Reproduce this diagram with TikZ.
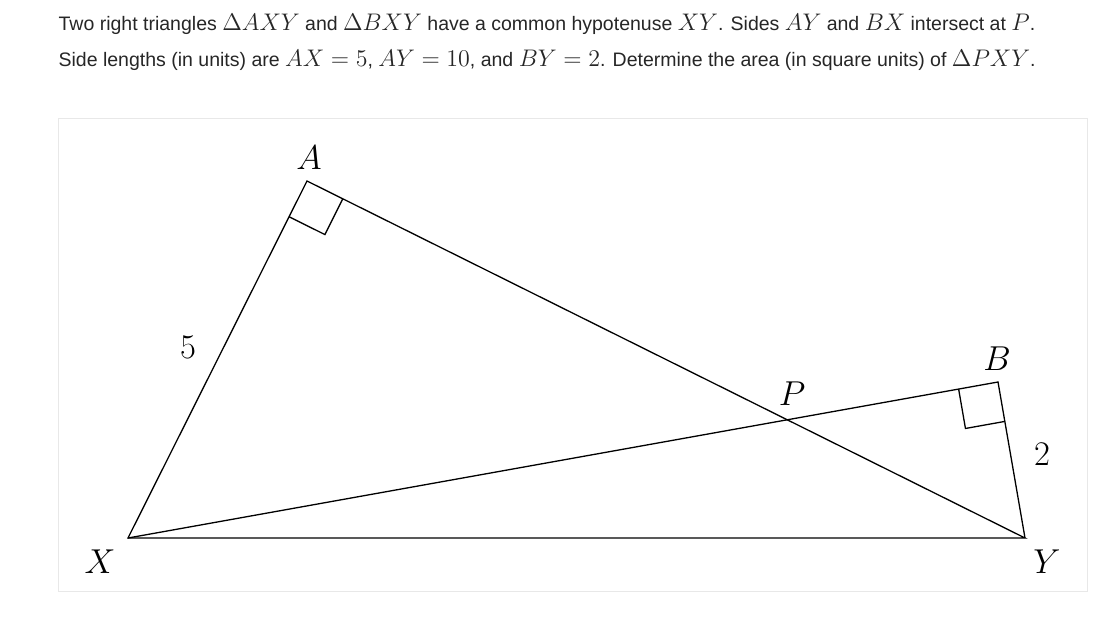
\documentclass[tikz,border=0pt]{standalone}
\usepackage{amsmath}
\usepackage[no-math]{fontspec}
\setmainfont{Liberation Sans}
\usepackage{tikz}
\usetikzlibrary{calc}
\newcommand{\mth}[1]{{\fontsize{11.55}{13}\selectfont$#1$}}
\tikzstyle{txt}=[anchor=base west, inner sep=0pt, text=black!85, font=\fontsize{9.75}{11}\selectfont]
\tikzstyle{lbl}=[inner sep=0pt, font=\fontsize{16}{18}\selectfont]
\tikzstyle{frame}=[draw=black!9, line width=0.5pt]

\begin{document}
\begin{tikzpicture}[x=0.5pt, y=-0.5pt, line width=0.65pt]
                \useasboundingbox (0,0) rectangle (1119,621);
                \node[txt] (t1) at (58,31) {Two right triangles \mth{\Delta AXY} and \mth{\Delta BXY} have a common hypotenuse \mth{XY}. Sides \mth{AY} and \mth{BX} intersect at \mth{P}.};
                \node[txt] (t2) at (58,66) {Side lengths (in units) are \mth{AX=5}, \mth{AY=10}, and \mth{BY=2}. Determine the area (in square units) of \mth{\Delta PXY}.};
                \draw[frame] (58,118) rectangle (1087,591);
                \coordinate (X) at (128,538);
                \coordinate (Y) at (1025,538);
                \coordinate (A) at (307,181);
                \coordinate (B) at (998,382);
                \coordinate (P) at (intersection of A--Y and B--X);
                \draw (X)--(Y)--(A)--cycle;
                \draw (X)--(B)--(Y);
                % right angle marks
                \coordinate (a1) at ($(A)!20pt!(X)$);
                \coordinate (a2) at ($(A)!20pt!(Y)$);
                \coordinate (b1) at ($(B)!20pt!(X)$);
                \coordinate (b2) at ($(B)!20pt!(Y)$);
                \draw (a1)--($(a1)+(a2)-(A)$)--(a2);
                \draw (b1)--($(b1)+(b2)-(B)$)--(b2);
                \node[lbl] (lA) at (309,158) {$A$};
                \node[lbl] (l5) at (188,347) {$5$};
                \node[lbl] (lB) at (997,359) {$B$};
                \node[lbl] (lP) at (792,394) {$P$};
                \node[lbl] (l2) at (1042,454) {$2$};
                \node[lbl] (lX) at (100,562) {$X$};
                \node[lbl] (lY) at (1047,562) {$Y$};
            \end{tikzpicture}
\end{document}
